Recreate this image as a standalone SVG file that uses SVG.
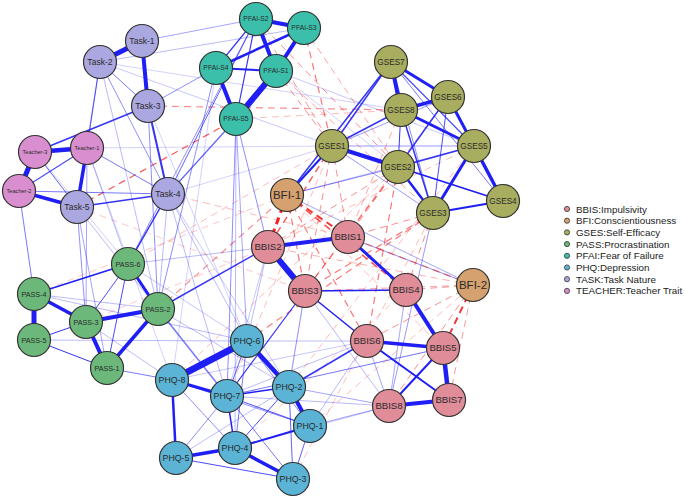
<svg xmlns="http://www.w3.org/2000/svg" width="685" height="499" viewBox="0 0 685 499">
<style>
.p{stroke:#1f1ff5;stroke-linecap:round;fill:none}
.n{stroke:#f52020;stroke-dasharray:7 5;fill:none}
.nd circle{stroke:#333;stroke-width:1.2}
.nd text{font-family:"Liberation Sans",Arial,sans-serif;fill:#2a2a2a;text-anchor:middle}
.task{fill:#aba7e0}.teach{fill:#d98fcf}.pfai{fill:#3bbfaa}.gses{fill:#a8ad5f}.bfi{fill:#d5a16e}.bbis{fill:#e08c99}.pass{fill:#6cb87b}.phq{fill:#5bb4d6}
.lg text{font-family:"Liberation Sans",Arial,sans-serif;font-size:9.8px;fill:#222}
.lg circle{stroke:#333;stroke-width:0.8}
</style>
<rect width="685" height="499" fill="#fff"/>
<g id="edges">
<!-- light blue cross edges -->
<line class="p" x1="100" y1="62" x2="332" y2="146" stroke-width="1" stroke-opacity="0.25"/>
<line class="p" x1="100" y1="62" x2="401" y2="110" stroke-width="1" stroke-opacity="0.2"/>
<line class="p" x1="87" y1="148" x2="332" y2="146" stroke-width="1" stroke-opacity="0.2"/>
<line class="p" x1="168" y1="194" x2="332" y2="146" stroke-width="1" stroke-opacity="0.2"/>
<line class="p" x1="276" y1="71" x2="474" y2="146" stroke-width="1" stroke-opacity="0.25"/>
<line class="p" x1="276" y1="71" x2="398" y2="167" stroke-width="1" stroke-opacity="0.2"/>
<line class="p" x1="168" y1="194" x2="247" y2="341" stroke-width="1" stroke-opacity="0.3"/>
<line class="p" x1="168" y1="194" x2="227" y2="396" stroke-width="1" stroke-opacity="0.3"/>
<line class="p" x1="168" y1="194" x2="289" y2="387" stroke-width="1" stroke-opacity="0.25"/>
<line class="p" x1="168" y1="194" x2="158" y2="309" stroke-width="1" stroke-opacity="0.3"/>
<line class="p" x1="148" y1="106" x2="247" y2="341" stroke-width="1" stroke-opacity="0.2"/>
<line class="p" x1="77" y1="207" x2="158" y2="309" stroke-width="1" stroke-opacity="0.3"/>
<line class="p" x1="87" y1="148" x2="128" y2="264" stroke-width="1" stroke-opacity="0.3"/>
<line class="p" x1="87" y1="148" x2="172" y2="380" stroke-width="1" stroke-opacity="0.2"/>
<line class="p" x1="35" y1="152" x2="128" y2="264" stroke-width="1" stroke-opacity="0.2"/>
<line class="p" x1="34" y1="294" x2="247" y2="341" stroke-width="1" stroke-opacity="0.3"/>
<line class="p" x1="34" y1="340" x2="247" y2="341" stroke-width="1" stroke-opacity="0.3"/>
<line class="p" x1="86" y1="322" x2="172" y2="380" stroke-width="1" stroke-opacity="0.3"/>
<line class="p" x1="158" y1="309" x2="289" y2="387" stroke-width="1" stroke-opacity="0.3"/>
<line class="p" x1="128" y1="264" x2="268" y2="247" stroke-width="1" stroke-opacity="0.3"/>
<line class="p" x1="128" y1="264" x2="247" y2="341" stroke-width="1" stroke-opacity="0.25"/>
<line class="p" x1="34" y1="294" x2="158" y2="309" stroke-width="1" stroke-opacity="0.3"/>
<line class="p" x1="216" y1="68" x2="172" y2="380" stroke-width="1" stroke-opacity="0.2"/>
<line class="p" x1="236" y1="119" x2="235" y2="448" stroke-width="1" stroke-opacity="0.3"/>
<line class="p" x1="289" y1="387" x2="305" y2="291" stroke-width="1" stroke-opacity="0.3"/>
<line class="p" x1="247" y1="341" x2="367" y2="341" stroke-width="1" stroke-opacity="0.3"/>
<line class="p" x1="227" y1="396" x2="367" y2="341" stroke-width="1" stroke-opacity="0.3"/>
<line class="p" x1="310" y1="426" x2="367" y2="341" stroke-width="1" stroke-opacity="0.3"/>
<line class="p" x1="172" y1="380" x2="367" y2="341" stroke-width="1" stroke-opacity="0.25"/>
<line class="p" x1="310" y1="426" x2="389" y2="406" stroke-width="1" stroke-opacity="0.4"/>
<line class="p" x1="289" y1="387" x2="389" y2="406" stroke-width="1" stroke-opacity="0.4"/>
<line class="p" x1="227" y1="396" x2="389" y2="406" stroke-width="1" stroke-opacity="0.3"/>
<line class="p" x1="235" y1="448" x2="389" y2="406" stroke-width="1" stroke-opacity="0.25"/>
<line class="p" x1="227" y1="396" x2="443" y2="348" stroke-width="1.2" stroke-opacity="0.6"/>
<line class="p" x1="268" y1="247" x2="247" y2="341" stroke-width="1" stroke-opacity="0.3"/>
<line class="p" x1="268" y1="247" x2="227" y2="396" stroke-width="1" stroke-opacity="0.25"/>
<line class="p" x1="305" y1="291" x2="289" y2="387" stroke-width="1" stroke-opacity="0.25"/>
<line class="p" x1="305" y1="291" x2="389" y2="406" stroke-width="1" stroke-opacity="0.3"/>
<line class="p" x1="406" y1="290" x2="389" y2="406" stroke-width="1" stroke-opacity="0.4"/>
<line class="p" x1="367" y1="341" x2="389" y2="406" stroke-width="1" stroke-opacity="0.4"/>
<line class="p" x1="433" y1="213" x2="389" y2="406" stroke-width="1" stroke-opacity="0.45"/>
<line class="p" x1="348" y1="237" x2="473" y2="285" stroke-width="1" stroke-opacity="0.5"/>
<line class="p" x1="287" y1="195" x2="473" y2="285" stroke-width="1" stroke-opacity="0.4"/>
<line class="p" x1="287" y1="195" x2="398" y2="167" stroke-width="1" stroke-opacity="0.5"/>
<line class="p" x1="287" y1="195" x2="474" y2="146" stroke-width="1" stroke-opacity="0.3"/>
<line class="p" x1="332" y1="146" x2="433" y2="213" stroke-width="1" stroke-opacity="0.45"/>
<line class="p" x1="332" y1="146" x2="474" y2="146" stroke-width="1" stroke-opacity="0.45"/>
<line class="p" x1="332" y1="146" x2="448" y2="97" stroke-width="1" stroke-opacity="0.45"/>
<line class="p" x1="332" y1="146" x2="503" y2="201" stroke-width="1" stroke-opacity="0.3"/>
<!-- red dashed negative -->
<line class="n" x1="148" y1="106" x2="401" y2="110" stroke-width="1.2" stroke-opacity="0.5"/>
<line class="n" x1="77" y1="207" x2="236" y2="119" stroke-width="1.2" stroke-opacity="0.75"/>
<line class="n" x1="256" y1="19" x2="398" y2="167" stroke-width="1" stroke-opacity="0.5"/>
<line class="n" x1="256" y1="19" x2="332" y2="146" stroke-width="1" stroke-opacity="0.45"/>
<line class="n" x1="304" y1="28" x2="332" y2="146" stroke-width="1.2" stroke-opacity="0.6"/>
<line class="n" x1="304" y1="28" x2="398" y2="167" stroke-width="1" stroke-opacity="0.4"/>
<line class="n" x1="276" y1="71" x2="332" y2="146" stroke-width="1" stroke-opacity="0.5"/>
<line class="n" x1="276" y1="71" x2="433" y2="213" stroke-width="1" stroke-opacity="0.4"/>
<line class="n" x1="236" y1="119" x2="401" y2="110" stroke-width="1" stroke-opacity="0.3"/>
<line class="n" x1="168" y1="194" x2="348" y2="237" stroke-width="1" stroke-opacity="0.3"/>
<line class="n" x1="158" y1="309" x2="287" y2="195" stroke-width="1.2" stroke-opacity="0.5"/>
<line class="n" x1="128" y1="264" x2="332" y2="146" stroke-width="1" stroke-opacity="0.3"/>
<line class="n" x1="34" y1="294" x2="287" y2="195" stroke-width="1" stroke-opacity="0.25"/>
<line class="n" x1="86" y1="322" x2="268" y2="247" stroke-width="1" stroke-opacity="0.25"/>
<line class="n" x1="77" y1="207" x2="305" y2="291" stroke-width="1" stroke-opacity="0.25"/>
<line class="n" x1="247" y1="341" x2="433" y2="213" stroke-width="1.2" stroke-opacity="0.6"/>
<line class="n" x1="172" y1="380" x2="398" y2="167" stroke-width="1" stroke-opacity="0.3"/>
<line class="n" x1="227" y1="396" x2="332" y2="146" stroke-width="1" stroke-opacity="0.3"/>
<line class="n" x1="289" y1="387" x2="474" y2="146" stroke-width="1" stroke-opacity="0.3"/>
<line class="n" x1="293" y1="479" x2="433" y2="213" stroke-width="1" stroke-opacity="0.3"/>
<line class="n" x1="310" y1="426" x2="473" y2="285" stroke-width="1" stroke-opacity="0.3"/>
<line class="n" x1="235" y1="448" x2="406" y2="290" stroke-width="1" stroke-opacity="0.25"/>
<line class="n" x1="332" y1="146" x2="268" y2="247" stroke-width="1.5" stroke-opacity="0.7"/>
<line class="n" x1="332" y1="146" x2="348" y2="237" stroke-width="1" stroke-opacity="0.5"/>
<line class="n" x1="332" y1="146" x2="305" y2="291" stroke-width="1" stroke-opacity="0.5"/>
<line class="n" x1="398" y1="167" x2="268" y2="247" stroke-width="1" stroke-opacity="0.5"/>
<line class="n" x1="398" y1="167" x2="348" y2="237" stroke-width="1" stroke-opacity="0.5"/>
<line class="n" x1="398" y1="167" x2="305" y2="291" stroke-width="1.2" stroke-opacity="0.7"/>
<line class="n" x1="398" y1="167" x2="367" y2="341" stroke-width="1.2" stroke-opacity="0.6"/>
<line class="n" x1="433" y1="213" x2="348" y2="237" stroke-width="1" stroke-opacity="0.5"/>
<line class="n" x1="433" y1="213" x2="406" y2="290" stroke-width="1" stroke-opacity="0.5"/>
<line class="n" x1="433" y1="213" x2="305" y2="291" stroke-width="1.2" stroke-opacity="0.6"/>
<line class="n" x1="401" y1="110" x2="348" y2="237" stroke-width="1" stroke-opacity="0.4"/>
<line class="n" x1="474" y1="146" x2="268" y2="247" stroke-width="1" stroke-opacity="0.3"/>
<line class="n" x1="448" y1="97" x2="305" y2="291" stroke-width="1" stroke-opacity="0.3"/>
<line class="n" x1="287" y1="195" x2="348" y2="237" stroke-width="2" stroke-opacity="0.9"/>
<line class="n" x1="287" y1="195" x2="406" y2="290" stroke-width="1.5" stroke-opacity="0.8"/>
<line class="n" x1="287" y1="195" x2="305" y2="291" stroke-width="1.2" stroke-opacity="0.6"/>
<line class="n" x1="287" y1="195" x2="367" y2="341" stroke-width="1.2" stroke-opacity="0.6"/>
<line class="n" x1="287" y1="195" x2="443" y2="348" stroke-width="1" stroke-opacity="0.3"/>
<line class="n" x1="473" y1="285" x2="443" y2="348" stroke-width="2" stroke-opacity="0.9"/>
<line class="n" x1="473" y1="285" x2="449" y2="400" stroke-width="1" stroke-opacity="0.45"/>
<line class="n" x1="473" y1="285" x2="348" y2="237" stroke-width="1.2" stroke-opacity="0.6"/>
<line class="n" x1="473" y1="285" x2="406" y2="290" stroke-width="1" stroke-opacity="0.5"/>
<line class="n" x1="473" y1="285" x2="367" y2="341" stroke-width="1" stroke-opacity="0.5"/>
<line class="n" x1="473" y1="285" x2="389" y2="406" stroke-width="1" stroke-opacity="0.5"/>
<line class="n" x1="473" y1="285" x2="305" y2="291" stroke-width="1" stroke-opacity="0.4"/>
<line class="n" x1="473" y1="285" x2="268" y2="247" stroke-width="1" stroke-opacity="0.35"/>
<line class="n" x1="287" y1="195" x2="268" y2="247" stroke-width="3" stroke-opacity="1"/>
<!-- positive blue -->
<line class="p" x1="142" y1="41" x2="100" y2="62" stroke-width="5"/>
<line class="p" x1="142" y1="41" x2="148" y2="106" stroke-width="4"/>
<line class="p" x1="100" y1="62" x2="148" y2="106" stroke-width="1" stroke-opacity="0.6"/>
<line class="p" x1="35" y1="152" x2="87" y2="148" stroke-width="4.5"/>
<line class="p" x1="35" y1="152" x2="19" y2="191" stroke-width="5"/>
<line class="p" x1="87" y1="148" x2="77" y2="207" stroke-width="3.5"/>
<line class="p" x1="19" y1="191" x2="77" y2="207" stroke-width="3.5"/>
<line class="p" x1="148" y1="106" x2="35" y2="152" stroke-width="1.5" stroke-opacity="0.9"/>
<line class="p" x1="19" y1="191" x2="87" y2="148" stroke-width="1.2" stroke-opacity="0.8"/>
<line class="p" x1="35" y1="152" x2="77" y2="207" stroke-width="1" stroke-opacity="0.7"/>
<line class="p" x1="77" y1="207" x2="168" y2="194" stroke-width="1.5" stroke-opacity="0.9"/>
<line class="p" x1="87" y1="148" x2="168" y2="194" stroke-width="1" stroke-opacity="0.6"/>
<line class="p" x1="19" y1="191" x2="168" y2="194" stroke-width="1" stroke-opacity="0.6"/>
<line class="p" x1="148" y1="106" x2="168" y2="194" stroke-width="2" stroke-opacity="0.9"/>
<line class="p" x1="168" y1="194" x2="128" y2="264" stroke-width="1.5" stroke-opacity="0.9"/>
<line class="p" x1="168" y1="194" x2="236" y2="119" stroke-width="1.2" stroke-opacity="0.7"/>
<line class="p" x1="100" y1="62" x2="87" y2="148" stroke-width="1" stroke-opacity="0.7"/>
<line class="p" x1="148" y1="106" x2="216" y2="68" stroke-width="1" stroke-opacity="0.5"/>
<line class="p" x1="142" y1="41" x2="256" y2="19" stroke-width="1" stroke-opacity="0.4"/>
<line class="p" x1="100" y1="62" x2="304" y2="28" stroke-width="1" stroke-opacity="0.3"/>
<line class="p" x1="100" y1="62" x2="168" y2="194" stroke-width="1" stroke-opacity="0.5"/>
<line class="p" x1="100" y1="62" x2="77" y2="207" stroke-width="1" stroke-opacity="0.4"/>
<line class="p" x1="100" y1="62" x2="158" y2="309" stroke-width="1" stroke-opacity="0.3"/>
<line class="p" x1="148" y1="106" x2="158" y2="309" stroke-width="1" stroke-opacity="0.5"/>
<line class="p" x1="19" y1="191" x2="34" y2="294" stroke-width="1" stroke-opacity="0.6"/>
<line class="p" x1="77" y1="207" x2="86" y2="322" stroke-width="1" stroke-opacity="0.5"/>
<line class="p" x1="77" y1="207" x2="107" y2="368" stroke-width="1" stroke-opacity="0.4"/>
<line class="p" x1="87" y1="148" x2="86" y2="322" stroke-width="1" stroke-opacity="0.4"/>
<line class="p" x1="256" y1="19" x2="304" y2="28" stroke-width="4"/>
<line class="p" x1="256" y1="19" x2="276" y2="71" stroke-width="4"/>
<line class="p" x1="304" y1="28" x2="276" y2="71" stroke-width="4"/>
<line class="p" x1="304" y1="28" x2="216" y2="68" stroke-width="2.5"/>
<line class="p" x1="216" y1="68" x2="276" y2="71" stroke-width="2"/>
<line class="p" x1="216" y1="68" x2="236" y2="119" stroke-width="4"/>
<line class="p" x1="276" y1="71" x2="236" y2="119" stroke-width="6"/>
<line class="p" x1="256" y1="19" x2="216" y2="68" stroke-width="1.2" stroke-opacity="0.9"/>
<line class="p" x1="256" y1="19" x2="236" y2="119" stroke-width="1.2" stroke-opacity="0.9"/>
<line class="p" x1="256" y1="19" x2="168" y2="194" stroke-width="1" stroke-opacity="0.7"/>
<line class="p" x1="256" y1="19" x2="128" y2="264" stroke-width="1" stroke-opacity="0.5"/>
<line class="p" x1="216" y1="68" x2="158" y2="309" stroke-width="1" stroke-opacity="0.5"/>
<line class="p" x1="236" y1="119" x2="227" y2="396" stroke-width="1" stroke-opacity="0.5"/>
<line class="p" x1="236" y1="119" x2="247" y2="341" stroke-width="1" stroke-opacity="0.4"/>
<line class="p" x1="236" y1="119" x2="268" y2="247" stroke-width="1" stroke-opacity="0.5"/>
<line class="p" x1="391" y1="62" x2="401" y2="110" stroke-width="4"/>
<line class="p" x1="391" y1="62" x2="448" y2="97" stroke-width="3"/>
<line class="p" x1="391" y1="62" x2="474" y2="146" stroke-width="1.2" stroke-opacity="0.8"/>
<line class="p" x1="391" y1="62" x2="503" y2="201" stroke-width="1" stroke-opacity="0.6"/>
<line class="p" x1="391" y1="62" x2="433" y2="213" stroke-width="1" stroke-opacity="0.5"/>
<line class="p" x1="391" y1="62" x2="332" y2="146" stroke-width="1.5" stroke-opacity="0.9"/>
<line class="p" x1="391" y1="62" x2="287" y2="195" stroke-width="1.5" stroke-opacity="0.9"/>
<line class="p" x1="401" y1="110" x2="448" y2="97" stroke-width="3.5"/>
<line class="p" x1="401" y1="110" x2="474" y2="146" stroke-width="3"/>
<line class="p" x1="448" y1="97" x2="474" y2="146" stroke-width="3"/>
<line class="p" x1="474" y1="146" x2="503" y2="201" stroke-width="3.5"/>
<line class="p" x1="474" y1="146" x2="433" y2="213" stroke-width="3"/>
<line class="p" x1="433" y1="213" x2="503" y2="201" stroke-width="2"/>
<line class="p" x1="398" y1="167" x2="433" y2="213" stroke-width="2.5"/>
<line class="p" x1="398" y1="167" x2="503" y2="201" stroke-width="1.5"/>
<line class="p" x1="398" y1="167" x2="474" y2="146" stroke-width="1.5" stroke-opacity="0.9"/>
<line class="p" x1="332" y1="146" x2="398" y2="167" stroke-width="4"/>
<line class="p" x1="332" y1="146" x2="401" y2="110" stroke-width="1.5" stroke-opacity="0.9"/>
<line class="p" x1="401" y1="110" x2="398" y2="167" stroke-width="1" stroke-opacity="0.9"/>
<line class="p" x1="401" y1="110" x2="433" y2="213" stroke-width="1.5" stroke-opacity="0.9"/>
<line class="p" x1="448" y1="97" x2="398" y2="167" stroke-width="1.5" stroke-opacity="0.9"/>
<line class="p" x1="448" y1="97" x2="433" y2="213" stroke-width="1" stroke-opacity="0.8"/>
<line class="p" x1="448" y1="97" x2="503" y2="201" stroke-width="1" stroke-opacity="0.5"/>
<line class="p" x1="332" y1="146" x2="287" y2="195" stroke-width="2"/>
<line class="p" x1="268" y1="247" x2="348" y2="237" stroke-width="4"/>
<line class="p" x1="268" y1="247" x2="305" y2="291" stroke-width="6"/>
<line class="p" x1="348" y1="237" x2="406" y2="290" stroke-width="3"/>
<line class="p" x1="305" y1="291" x2="406" y2="290" stroke-width="1.5"/>
<line class="p" x1="406" y1="290" x2="443" y2="348" stroke-width="4"/>
<line class="p" x1="367" y1="341" x2="443" y2="348" stroke-width="3.5"/>
<line class="p" x1="443" y1="348" x2="449" y2="400" stroke-width="4.5"/>
<line class="p" x1="389" y1="406" x2="449" y2="400" stroke-width="4"/>
<line class="p" x1="367" y1="341" x2="449" y2="400" stroke-width="2"/>
<line class="p" x1="443" y1="348" x2="389" y2="406" stroke-width="2"/>
<line class="p" x1="305" y1="291" x2="367" y2="341" stroke-width="1.5"/>
<line class="p" x1="268" y1="247" x2="158" y2="309" stroke-width="1.5" stroke-opacity="0.9"/>
<line class="p" x1="305" y1="291" x2="227" y2="396" stroke-width="1.2" stroke-opacity="0.9"/>
<line class="p" x1="367" y1="341" x2="289" y2="387" stroke-width="1.5" stroke-opacity="0.9"/>
<line class="p" x1="34" y1="294" x2="34" y2="340" stroke-width="5"/>
<line class="p" x1="34" y1="294" x2="86" y2="322" stroke-width="3.5"/>
<line class="p" x1="86" y1="322" x2="158" y2="309" stroke-width="4"/>
<line class="p" x1="86" y1="322" x2="107" y2="368" stroke-width="4"/>
<line class="p" x1="158" y1="309" x2="107" y2="368" stroke-width="3.5"/>
<line class="p" x1="128" y1="264" x2="158" y2="309" stroke-width="3"/>
<line class="p" x1="128" y1="264" x2="34" y2="294" stroke-width="1.5"/>
<line class="p" x1="34" y1="340" x2="86" y2="322" stroke-width="1" stroke-opacity="0.9"/>
<line class="p" x1="34" y1="340" x2="107" y2="368" stroke-width="1" stroke-opacity="0.9"/>
<line class="p" x1="128" y1="264" x2="86" y2="322" stroke-width="1" stroke-opacity="0.8"/>
<line class="p" x1="128" y1="264" x2="107" y2="368" stroke-width="1" stroke-opacity="0.8"/>
<line class="p" x1="107" y1="368" x2="172" y2="380" stroke-width="1" stroke-opacity="0.6"/>
<line class="p" x1="158" y1="309" x2="227" y2="396" stroke-width="1.5" stroke-opacity="0.6"/>
<line class="p" x1="247" y1="341" x2="172" y2="380" stroke-width="7"/>
<line class="p" x1="247" y1="341" x2="289" y2="387" stroke-width="4.5"/>
<line class="p" x1="172" y1="380" x2="227" y2="396" stroke-width="3"/>
<line class="p" x1="172" y1="380" x2="176" y2="458" stroke-width="2.5"/>
<line class="p" x1="289" y1="387" x2="310" y2="426" stroke-width="4"/>
<line class="p" x1="176" y1="458" x2="235" y2="448" stroke-width="3.5"/>
<line class="p" x1="235" y1="448" x2="293" y2="479" stroke-width="3.5"/>
<line class="p" x1="235" y1="448" x2="310" y2="426" stroke-width="2"/>
<line class="p" x1="227" y1="396" x2="235" y2="448" stroke-width="1.5"/>
<line class="p" x1="227" y1="396" x2="289" y2="387" stroke-width="1.5"/>
<line class="p" x1="227" y1="396" x2="310" y2="426" stroke-width="1" stroke-opacity="0.8"/>
<line class="p" x1="289" y1="387" x2="235" y2="448" stroke-width="1" stroke-opacity="0.8"/>
<line class="p" x1="289" y1="387" x2="293" y2="479" stroke-width="1" stroke-opacity="0.7"/>
<line class="p" x1="310" y1="426" x2="293" y2="479" stroke-width="1" stroke-opacity="0.7"/>
<line class="p" x1="176" y1="458" x2="293" y2="479" stroke-width="1" stroke-opacity="0.8"/>
<line class="p" x1="247" y1="341" x2="227" y2="396" stroke-width="1" stroke-opacity="0.7"/>
<line class="p" x1="247" y1="341" x2="235" y2="448" stroke-width="1" stroke-opacity="0.6"/>
<line class="p" x1="172" y1="380" x2="235" y2="448" stroke-width="1" stroke-opacity="0.5"/>
<line class="p" x1="227" y1="396" x2="293" y2="479" stroke-width="1" stroke-opacity="0.6"/>
<line class="p" x1="247" y1="341" x2="310" y2="426" stroke-width="1" stroke-opacity="0.5"/>
<line class="p" x1="172" y1="380" x2="310" y2="426" stroke-width="1" stroke-opacity="0.5"/>
<line class="p" x1="227" y1="396" x2="176" y2="458" stroke-width="1" stroke-opacity="0.5"/>
<line class="p" x1="289" y1="387" x2="176" y2="458" stroke-width="1" stroke-opacity="0.3"/>
</g>
<g class="nd">
<g id="task-1"><circle class="task" cx="142" cy="41" r="16.5"/><text x="142" y="41" dy="0.35em" font-size="8.6">Task-1</text></g>
<g id="task-2"><circle class="task" cx="100" cy="62" r="16.5"/><text x="100" y="62" dy="0.35em" font-size="8.6">Task-2</text></g>
<g id="task-3"><circle class="task" cx="148" cy="106" r="16.5"/><text x="148" y="106" dy="0.35em" font-size="8.6">Task-3</text></g>
<g id="task-4"><circle class="task" cx="168" cy="194" r="16.5"/><text x="168" y="194" dy="0.35em" font-size="8.6">Task-4</text></g>
<g id="task-5"><circle class="task" cx="77" cy="207" r="16.5"/><text x="77" y="207" dy="0.35em" font-size="8.6">Task-5</text></g>
<g id="teacher-3"><circle class="teach" cx="35" cy="152" r="16.5"/><text x="35" y="152" dy="0.35em" font-size="5.6">Teacher-3</text></g>
<g id="teacher-1"><circle class="teach" cx="87" cy="148" r="16.5"/><text x="87" y="148" dy="0.35em" font-size="5.6">Teacher-1</text></g>
<g id="teacher-2"><circle class="teach" cx="19" cy="191" r="16.5"/><text x="19" y="191" dy="0.35em" font-size="5.6">Teacher-2</text></g>
<g id="pfai-s2"><circle class="pfai" cx="256" cy="19" r="16.5"/><text x="256" y="19" dy="0.35em" font-size="6.8">PFAI-S2</text></g>
<g id="pfai-s3"><circle class="pfai" cx="304" cy="28" r="16.5"/><text x="304" y="28" dy="0.35em" font-size="6.8">PFAI-S3</text></g>
<g id="pfai-s4"><circle class="pfai" cx="216" cy="68" r="16.5"/><text x="216" y="68" dy="0.35em" font-size="6.8">PFAI-S4</text></g>
<g id="pfai-s1"><circle class="pfai" cx="276" cy="71" r="16.5"/><text x="276" y="71" dy="0.35em" font-size="6.8">PFAI-S1</text></g>
<g id="pfai-s5"><circle class="pfai" cx="236" cy="119" r="16.5"/><text x="236" y="119" dy="0.35em" font-size="6.8">PFAI-S5</text></g>
<g id="gses1"><circle class="gses" cx="332" cy="146" r="16.5"/><text x="332" y="146" dy="0.35em" font-size="8.2">GSES1</text></g>
<g id="gses7"><circle class="gses" cx="391" cy="62" r="16.5"/><text x="391" y="62" dy="0.35em" font-size="8.2">GSES7</text></g>
<g id="gses6"><circle class="gses" cx="448" cy="97" r="16.5"/><text x="448" y="97" dy="0.35em" font-size="8.2">GSES6</text></g>
<g id="gses8"><circle class="gses" cx="401" cy="110" r="16.5"/><text x="401" y="110" dy="0.35em" font-size="8.2">GSES8</text></g>
<g id="gses5"><circle class="gses" cx="474" cy="146" r="16.5"/><text x="474" y="146" dy="0.35em" font-size="8.2">GSES5</text></g>
<g id="gses2"><circle class="gses" cx="398" cy="167" r="16.5"/><text x="398" y="167" dy="0.35em" font-size="8.2">GSES2</text></g>
<g id="gses3"><circle class="gses" cx="433" cy="213" r="16.5"/><text x="433" y="213" dy="0.35em" font-size="8.2">GSES3</text></g>
<g id="gses4"><circle class="gses" cx="503" cy="201" r="16.5"/><text x="503" y="201" dy="0.35em" font-size="8.2">GSES4</text></g>
<g id="bfi-1"><circle class="bfi" cx="287" cy="195" r="16.5"/><text x="287" y="195" dy="0.35em" font-size="11.5">BFI-1</text></g>
<g id="bfi-2"><circle class="bfi" cx="473" cy="285" r="16.5"/><text x="473" y="285" dy="0.35em" font-size="11.5">BFI-2</text></g>
<g id="bbis1"><circle class="bbis" cx="348" cy="237" r="16.5"/><text x="348" y="237" dy="0.35em" font-size="9.6">BBIS1</text></g>
<g id="bbis2"><circle class="bbis" cx="268" cy="247" r="16.5"/><text x="268" y="247" dy="0.35em" font-size="9.6">BBIS2</text></g>
<g id="bbis3"><circle class="bbis" cx="305" cy="291" r="16.5"/><text x="305" y="291" dy="0.35em" font-size="9.6">BBIS3</text></g>
<g id="bbis4"><circle class="bbis" cx="406" cy="290" r="16.5"/><text x="406" y="290" dy="0.35em" font-size="9.6">BBIS4</text></g>
<g id="bbis6"><circle class="bbis" cx="367" cy="341" r="16.5"/><text x="367" y="341" dy="0.35em" font-size="9.6">BBIS6</text></g>
<g id="bbis5"><circle class="bbis" cx="443" cy="348" r="16.5"/><text x="443" y="348" dy="0.35em" font-size="9.6">BBIS5</text></g>
<g id="bbis8"><circle class="bbis" cx="389" cy="406" r="16.5"/><text x="389" y="406" dy="0.35em" font-size="9.6">BBIS8</text></g>
<g id="bbis7"><circle class="bbis" cx="449" cy="400" r="16.5"/><text x="449" y="400" dy="0.35em" font-size="9.6">BBIS7</text></g>
<g id="pass-6"><circle class="pass" cx="128" cy="264" r="16.5"/><text x="128" y="264" dy="0.35em" font-size="7.2">PASS-6</text></g>
<g id="pass-4"><circle class="pass" cx="34" cy="294" r="16.5"/><text x="34" y="294" dy="0.35em" font-size="7.2">PASS-4</text></g>
<g id="pass-2"><circle class="pass" cx="158" cy="309" r="16.5"/><text x="158" y="309" dy="0.35em" font-size="7.2">PASS-2</text></g>
<g id="pass-3"><circle class="pass" cx="86" cy="322" r="16.5"/><text x="86" y="322" dy="0.35em" font-size="7.2">PASS-3</text></g>
<g id="pass-5"><circle class="pass" cx="34" cy="340" r="16.5"/><text x="34" y="340" dy="0.35em" font-size="7.2">PASS-5</text></g>
<g id="pass-1"><circle class="pass" cx="107" cy="368" r="16.5"/><text x="107" y="368" dy="0.35em" font-size="7.2">PASS-1</text></g>
<g id="phq-6"><circle class="phq" cx="247" cy="341" r="16.5"/><text x="247" y="341" dy="0.35em" font-size="8.8">PHQ-6</text></g>
<g id="phq-8"><circle class="phq" cx="172" cy="380" r="16.5"/><text x="172" y="380" dy="0.35em" font-size="8.8">PHQ-8</text></g>
<g id="phq-7"><circle class="phq" cx="227" cy="396" r="16.5"/><text x="227" y="396" dy="0.35em" font-size="8.8">PHQ-7</text></g>
<g id="phq-2"><circle class="phq" cx="289" cy="387" r="16.5"/><text x="289" y="387" dy="0.35em" font-size="8.8">PHQ-2</text></g>
<g id="phq-1"><circle class="phq" cx="310" cy="426" r="16.5"/><text x="310" y="426" dy="0.35em" font-size="8.8">PHQ-1</text></g>
<g id="phq-4"><circle class="phq" cx="235" cy="448" r="16.5"/><text x="235" y="448" dy="0.35em" font-size="8.8">PHQ-4</text></g>
<g id="phq-5"><circle class="phq" cx="176" cy="458" r="16.5"/><text x="176" y="458" dy="0.35em" font-size="8.8">PHQ-5</text></g>
<g id="phq-3"><circle class="phq" cx="293" cy="479" r="16.5"/><text x="293" y="479" dy="0.35em" font-size="8.8">PHQ-3</text></g>
</g>
<g id="legend" class="lg">
<circle class="bbis" cx="567" cy="209" r="2.6"/><text x="576" y="212.5">BBIS:Impulsivity</text>
<circle class="bfi" cx="567" cy="220.7" r="2.6"/><text x="576" y="224.2">BFI:Conscientiousness</text>
<circle class="gses" cx="567" cy="232.4" r="2.6"/><text x="576" y="235.9">GSES:Self-Efficacy</text>
<circle class="pass" cx="567" cy="244.1" r="2.6"/><text x="576" y="247.6">PASS:Procrastination</text>
<circle class="pfai" cx="567" cy="255.8" r="2.6"/><text x="576" y="259.3">PFAI:Fear of Failure</text>
<circle class="phq" cx="567" cy="267.5" r="2.6"/><text x="576" y="271">PHQ:Depression</text>
<circle class="task" cx="567" cy="279.2" r="2.6"/><text x="576" y="282.7">TASK:Task Nature</text>
<circle class="teach" cx="567" cy="290.9" r="2.6"/><text x="576" y="294.4">TEACHER:Teacher Trait</text>
</g>
</svg>
